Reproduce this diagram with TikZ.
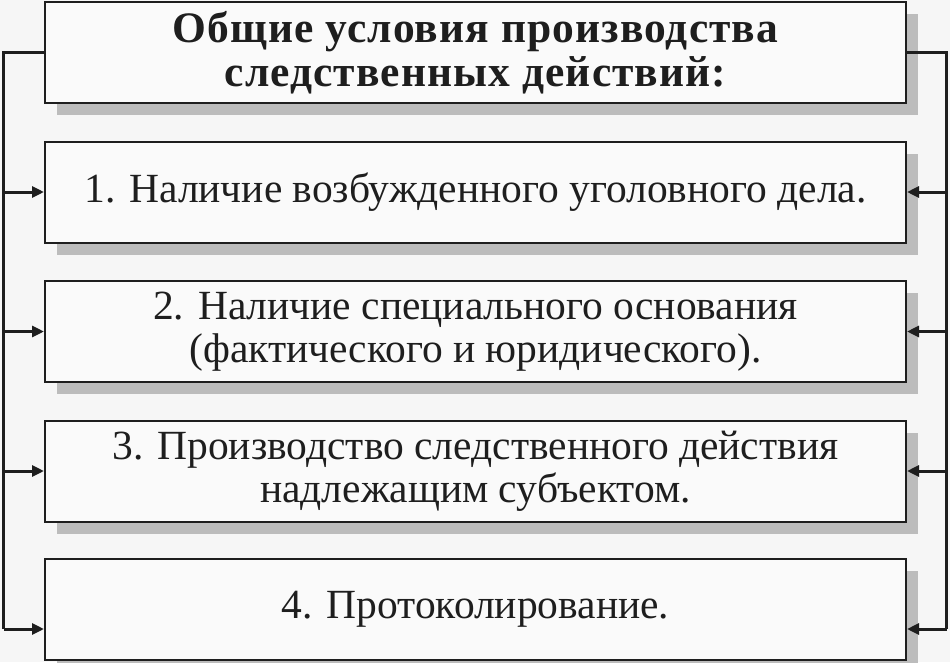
\documentclass[tikz,border=0pt]{standalone}
\usepackage{fontspec}
\setmainfont{Liberation Serif}
\newfontfamily\titlefam[LetterSpace=2.5]{Liberation Serif}
\usetikzlibrary{shadows,arrows.meta}
\definecolor{bgc}{HTML}{F6F6F6}
\definecolor{boxc}{HTML}{FAFAFA}
\definecolor{shc}{HTML}{BCBCBC}
\definecolor{inkc}{HTML}{1E1E1E}
\tikzset{
  card/.style={draw=inkc, line width=2pt, fill=boxc, minimum width=861pt, minimum height=101pt,
    inner sep=0pt, align=center, text=inkc,
    drop shadow={shadow xshift=12pt, shadow yshift=-12pt, fill=shc, opacity=1}},
  link/.style={draw=inkc, line width=3pt},
  arr/.style={link, -{Triangle[length=12pt,width=11pt]}},
  bodyfont/.style={font=\fontsize{41.5}{43}\selectfont},
  titlefont/.style={font=\titlefam\fontsize{43.5}{44}\selectfont\bfseries}
}
\begin{document}
\begin{tikzpicture}[x=1pt,y=-1pt]
\fill[bgc] (0,0) rectangle (950,662);
\useasboundingbox (0,0) rectangle (950,662);
\node[card, titlefont] (t) at (475.5,52.5) {Общие условия производства\\следственных действий:};
\node[card, bodyfont] (b1) at (475.5,192) {1. Наличие возбужденного уголовного дела.};
\node[card, bodyfont] (b2) at (475.5,331.5) {2. Наличие специального основания\\(фактического и юридического).};
\node[card, bodyfont] (b3) at (475.5,471) {3. Производство следственного действия\\надлежащим субъектом.};
\node[card, bodyfont] (b4) at (475.5,609.5) {4. Протоколирование.};
\coordinate (lt) at (3.5,52.5);
\coordinate (lb) at (3.5,629);
\coordinate (rt) at (946.5,52.5);
\coordinate (rb) at (946.5,629);
\draw[link] (t.west) -- (lt) -- (lb);
\draw[link] (t.east) -- (rt) -- (rb);
\draw[arr] (lt |- b1.west) -- (b1.west);
\draw[arr] (lt |- b2.west) -- (b2.west);
\draw[arr] (lt |- b3.west) -- (b3.west);
\draw[arr] (lb) -- ([yshift=-19.5pt]b4.west);
\draw[arr] (rt |- b1.east) -- (b1.east);
\draw[arr] (rt |- b2.east) -- (b2.east);
\draw[arr] (rt |- b3.east) -- (b3.east);
\draw[arr] (rb) -- ([yshift=-19.5pt]b4.east);
\end{tikzpicture}
\end{document}
